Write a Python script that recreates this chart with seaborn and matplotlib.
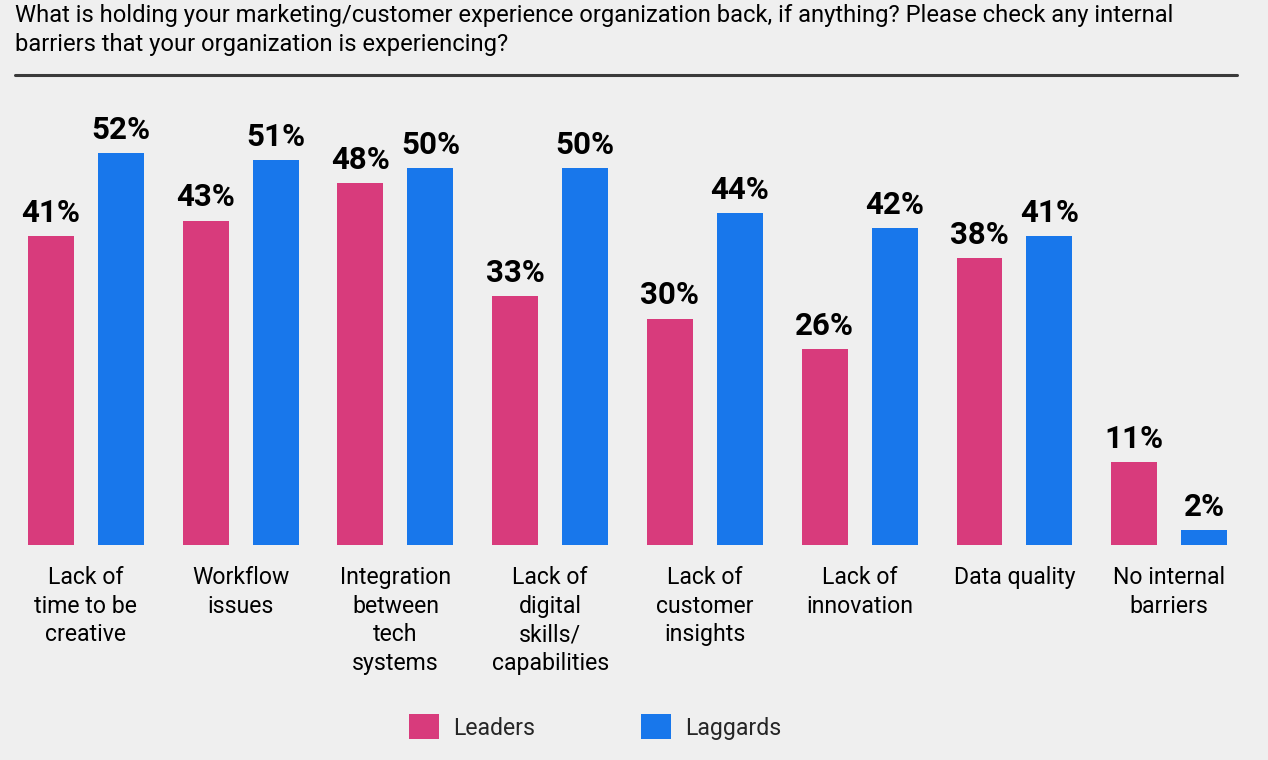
import matplotlib.pyplot as plt
import seaborn as sns
import pandas as pd
from matplotlib.lines import Line2D
from matplotlib.patches import Patch

# Survey data: share of respondents naming each internal barrier
categories = ["Lack of\ntime to be\ncreative", "Workflow\nissues",
              "Integration\nbetween\ntech\nsystems", "Lack of\ndigital\nskills/\ncapabilities",
              "Lack of\ncustomer\ninsights", "Lack of\ninnovation", "Data quality",
              "No internal\nbarriers"]
leaders = [41, 43, 48, 33, 30, 26, 38, 11]
laggards = [52, 51, 50, 50, 44, 42, 41, 2]
groups = ["Leaders", "Laggards"]
colors = ["#d83b7c", "#1877eb"]

title = ("What is holding your marketing/customer experience organization back, if anything? "
         "Please check any internal\nbarriers that your organization is experiencing?")

df = pd.DataFrame({
    "category": categories * 2,
    "group": [groups[0]] * len(leaders) + [groups[1]] * len(laggards),
    "value": leaders + laggards,
})

sns.set_theme(style="white")
plt.rcParams["font.family"] = ["Roboto", "DejaVu Sans"]
bg = "#efefef"

fig = plt.figure(figsize=(12.68, 7.6), dpi=100, facecolor=bg)
ax = fig.add_axes([0, 215 / 760, 1, 465 / 760])
ax.set_facecolor(bg)

sns.barplot(data=df, x="category", y="value", hue="group", palette=colors,
            saturation=1, width=0.904, gap=0.343, linewidth=0, legend=False, ax=ax)

ax.set_xlim(-0.555, 7.638)
ax.set_ylim(0, 61.67)

for cont in ax.containers:
    ax.bar_label(cont, fmt="%d%%", padding=6, fontsize=22.5, fontweight="bold", color="black")

ax.set_xlabel("")
ax.set_ylabel("")
ax.set_yticks([])
ax.tick_params(axis="x", length=0, pad=15, labelsize=16.6, labelcolor="black")
for lbl in ax.get_xticklabels():
    lbl.set_linespacing(1.32)
sns.despine(ax=ax, left=True, bottom=True)

# header text and rule
fig.text(15 / 1268, 1 - 4 / 760, title, ha="left", va="top", fontsize=17.15,
         linespacing=1.36, color="black")
fig.add_artist(Line2D([15 / 1268, 1237 / 1268], [1 - 75 / 760] * 2,
                      color="#3a3a3a", lw=2.2))

# legend at bottom
handles = [Patch(facecolor=c, edgecolor="none", label=g) for g, c in zip(groups, colors)]
fig.legend(handles=handles, loc="center", bbox_to_anchor=(595 / 1268, 1 - 727 / 760),
           ncol=2, frameon=False, fontsize=16.6, handlelength=1.3, handleheight=1.3,
           handletextpad=0.6, columnspacing=4.6)

fig.savefig("out.png", dpi=100, facecolor=fig.get_facecolor())
